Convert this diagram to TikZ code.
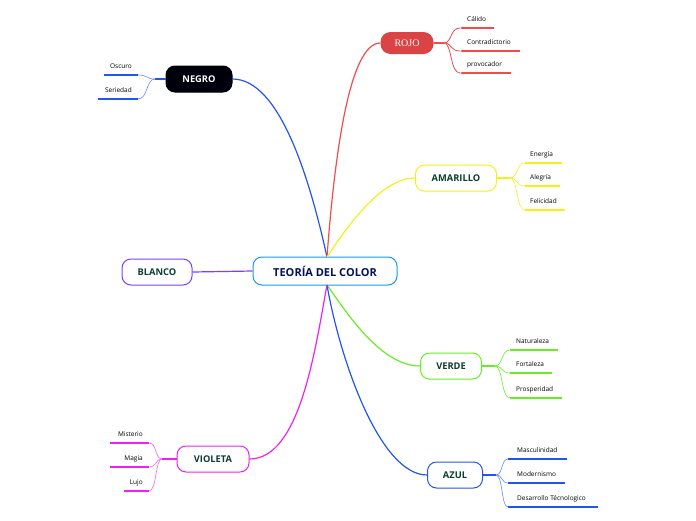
\documentclass[tikz,border=0pt]{standalone}
\usepackage{fontspec}
\setmainfont{Open Sans}
\newfontfamily\serifrojo{Liberation Serif}
\usetikzlibrary{arrows.meta}
\begin{document}
\begin{tikzpicture}[x=1pt,y=-1pt]
\definecolor{cred}{HTML}{F24B4B}
\definecolor{cyel}{HTML}{F2F21A}
\definecolor{cgrn}{HTML}{66EE22}
\definecolor{cblu}{HTML}{2255EE}
\definecolor{cvio}{HTML}{EE22EE}
\definecolor{cpur}{HTML}{7F3FFF}
\definecolor{ctxt}{HTML}{0D3D2D}
\useasboundingbox (0,0) rectangle (696,520);
\tikzset{
 topic/.style={rounded corners=9pt, line width=1pt, fill=white, minimum height=26pt, font=\fontsize{9.3}{10}\selectfont\bfseries, text=ctxt, inner sep=0pt},
 leaflab/.style={font=\fontsize{6.5}{7}\selectfont, inner sep=0pt, anchor=base west},
 br/.style={line width=1.2pt},
 uline/.style={line width=1.4pt}
}
% center
\node[topic, draw=cblu!60!cyan, minimum width=144pt, minimum height=28pt, font=\fontsize{11}{12}\selectfont\bfseries, text=ctxt!50!blue!60!black] (c) at (325,271) {TEORÍA DEL COLOR};
% main topics
\node[topic, draw=black, fill=black!95!blue, text=white, minimum width=66pt] (negro) at (199,79) {NEGRO};
\node[topic, draw=cpur, minimum width=70pt] (blanco) at (157,272) {BLANCO};
\node[rounded corners=10pt, fill=cred!90!black, minimum width=53pt, minimum height=22pt, inner sep=0pt, text=white, font=\serifrojo\fontsize{10}{11}\selectfont] (rojo) at (407,43) {ROJO};
\node[topic, draw=cyel, minimum width=81pt] (amarillo) at (456,178) {AMARILLO};
\node[topic, draw=cgrn, minimum width=61pt] (verde) at (451,366) {VERDE};
\node[topic, draw=cblu, minimum width=55pt] (azul) at (455,475) {AZUL};
\node[topic, draw=cvio, minimum width=72pt] (violeta) at (213,459) {VIOLETA};
% main branches
\coordinate (ct) at (327,257);
\coordinate (cb) at (327,285);
\draw[br, cblu] (negro.east) .. controls (280,79) and (310,180) .. (ct);
\draw[br, cred] (rojo.west) .. controls (350,43) and (335,150) .. (ct);
\draw[br, cyel] (amarillo.west) .. controls (380,178) and (345,230) .. (ct);
\draw[br, cpur] (blanco.east) -- (c.west);
\draw[br, cgrn] (verde.west) .. controls (380,366) and (345,310) .. (cb);
\draw[br, cblu] (azul.west) .. controls (380,475) and (340,360) .. (cb);
\draw[br, cvio] (violeta.east) .. controls (300,459) and (315,350) .. (cb);
% ROJO
\coordinate (rh) at (444,43);
\draw[br, cred] (rojo.east) -- (rh);
\foreach \n/\y/\xe/\t in {r1/28/494/Cálido, r2/51/520/Contradictorio, r3/73/511/provocador}{
 \coordinate (\n) at (460,\y);
 \coordinate (\n e) at (\xe,\y);
 \draw[line width=0.8pt, cred] (rh) .. controls (452,43) and (450,\y) .. (\n);
 \draw[uline, cred, {Latex[length=3pt,width=3pt]}-] (\n) -- (\n e);
 \node[leaflab] (\n t) at (467,\y-7) {\t};
}
% AMARILLO
\coordinate (ah) at (510,178);
\draw[br, cyel] (amarillo.east) -- (ah);
\foreach \n/\y/\xe/\t in {a1/163/562/Energía, a2/186/560/Alegría, a3/210/565/Felicidad}{
 \coordinate (\n) at (525,\y);
 \coordinate (\n e) at (\xe,\y);
 \draw[line width=0.6pt, cyel] (ah) .. controls (518,178) and (516,\y) .. (\n);
 \draw[uline, cyel] (\n) -- (\n e);
 \node[leaflab] (\n t) at (530,\y-7) {\t};
}
% VERDE
\coordinate (vh) at (495,366);
\draw[br, cgrn] (verde.east) -- (vh);
\foreach \n/\y/\xe/\t in {v1/350/558/Naturaleza, v2/373/552/Fortaleza, v3/398/562/Prosperidad}{
 \coordinate (\n) at (510,\y);
 \coordinate (\n e) at (\xe,\y);
 \draw[line width=0.6pt, cgrn] (vh) .. controls (503,366) and (501,\y) .. (\n);
 \draw[uline, cgrn] (\n) -- (\n e);
 \node[leaflab] (\n t) at (516,\y-7) {\t};
}
% AZUL
\coordinate (zh) at (496,475);
\draw[br, cblu] (azul.east) -- (zh);
\foreach \n/\y/\xe/\t in {z1/459/567/Masculinidad, z2/483/565/Modernismo, z3/507/598/Desarrollo Técnologico}{
 \coordinate (\n) at (508,\y);
 \coordinate (\n e) at (\xe,\y);
 \draw[line width=0.6pt, cblu!70] (zh) .. controls (503,475) and (501,\y) .. (\n);
 \draw[uline, cblu] (\n) -- (\n e);
 \node[leaflab] (\n t) at (517,\y-7) {\t};
}
% NEGRO (left)
\coordinate (nh) at (155,79);
\draw[br, cblu] (negro.west) -- (nh);
\foreach \n/\y/\xs/\xt/\t in {n1/75/104/132/Oscuro, n2/99/98/132/Seriedad}{
 \coordinate (\n) at (138,\y);
 \coordinate (\n s) at (\xs,\y);
 \draw[line width=0.6pt, cblu!70] (nh) .. controls (146,79) and (148,\y) .. (\n);
 \draw[uline, cblu] (\n) -- (\n s);
 \node[leaflab, anchor=base east] (\n t) at (\xt,\y-7) {\t};
}
% VIOLETA (left)
\coordinate (oh) at (162,459);
\draw[br, cvio] (violeta.west) -- (oh);
\foreach \n/\y/\xs/\xt/\t in {o1/443/110/143/Misterio, o2/467/110/143/Magia, o3/491/124/143/Lujo}{
 \coordinate (\n) at (149,\y);
 \coordinate (\n s) at (\xs,\y);
 \draw[line width=0.6pt, cvio!70] (oh) .. controls (155,459) and (157,\y) .. (\n);
 \draw[uline, cvio] (\n) -- (\n s);
 \node[leaflab, anchor=base east] (\n t) at (\xt,\y-7) {\t};
}
\end{tikzpicture}
\end{document}
